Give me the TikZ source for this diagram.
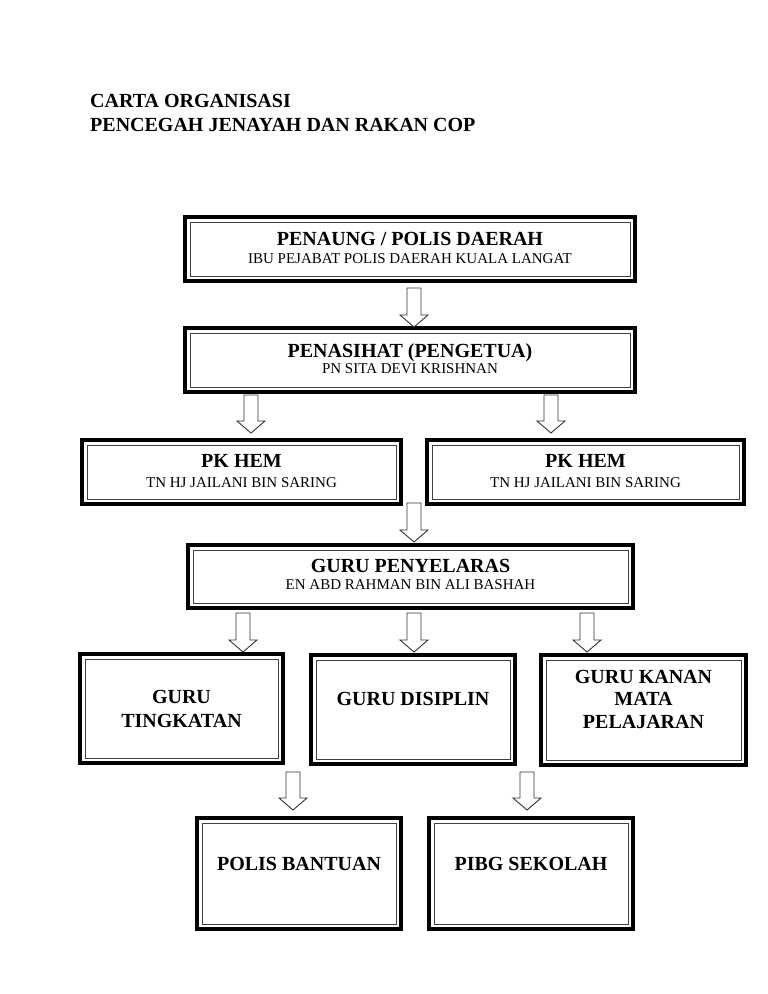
\documentclass[tikz,border=0pt]{standalone}
\usepackage{fontspec}
\setmainfont{Liberation Serif}
\usetikzlibrary{calc}
\tikzset{
  orgbox/.style={draw, line width=4pt, outer sep=0pt, inner sep=0pt, fill=white},
  innerline/.style={draw=black!75, line width=1pt},
  arrowline/.style={draw=black!80, line width=0.9pt, fill=white, line join=miter},
  bigtext/.style={font=\fontsize{20}{24}\selectfont\bfseries, inner sep=0pt, anchor=base},
  smalltext/.style={font=\fontsize{15}{18}\selectfont, inner sep=0pt, anchor=base},
}
% #1 name, #2 centre x, #3 centre y, #4 width, #5 height
\newcommand\orgframe[5]{%
  \node[orgbox, minimum width=#4pt, minimum height=#5pt] (#1) at (#2,#3) {};
  \draw[innerline] ([xshift=5pt,yshift=-5pt]#1.north west) rectangle ([xshift=-5pt,yshift=5pt]#1.south east);
}
% #1 x, #2 from node, #3 start offset, #4 to node, #5 tip offset
\newcommand\blockarrow[5]{%
  \path (#1,0 |- #2.south) coordinate (arrT) (#1,0 |- #4.north) coordinate (arrH);
  \draw[arrowline] ($(arrT)+(-7,#3)$) -- ($(arrH)+(-7,#5-12)$) -- ($(arrH)+(-14,#5-12)$) -- ($(arrH)+(0,#5)$)
    -- ($(arrH)+(14,#5-12)$) -- ($(arrH)+(7,#5-12)$) -- ($(arrT)+(7,#3)$) -- cycle;
}
\begin{document}
\begin{tikzpicture}[x=1pt,y=-1pt]
\useasboundingbox[fill=white] (0,0) rectangle (768,994);

% title
\node[bigtext, anchor=base west] (title1) at (90,107) {CARTA ORGANISASI};
\node[bigtext, anchor=base west] (title2) at (90,131) {PENCEGAH JENAYAH DAN RAKAN COP};

% boxes
\orgframe{b1}{410}{249}{450}{64}
\orgframe{b2}{410}{360}{450}{64}
\orgframe{b3l}{241.5}{472}{319}{64}
\orgframe{b3r}{585.5}{472}{317}{64}
\orgframe{b4}{410.5}{576.5}{445}{63}
\orgframe{b5l}{181.5}{708.5}{203}{109}
\orgframe{b5m}{413}{709.5}{204}{109}
\orgframe{b5r}{643.5}{710}{205}{110}
\orgframe{b6l}{299}{873.5}{204}{111}
\orgframe{b6r}{531}{873.5}{204}{111}

% texts
\node[bigtext] (b1a) at (410,245) {PENAUNG / POLIS DAERAH};
\node[smalltext] (b1b) at (410,263) {IBU PEJABAT POLIS DAERAH KUALA LANGAT};
\node[bigtext] (b2a) at (410,357) {PENASIHAT (PENGETUA)};
\node[smalltext] (b2b) at (410,373) {PN SITA DEVI KRISHNAN};
\node[bigtext] (b3la) at (241.5,467) {PK HEM};
\node[smalltext] (b3lb) at (241.5,487) {TN HJ JAILANI BIN SARING};
\node[bigtext] (b3ra) at (585.5,467) {PK HEM};
\node[smalltext] (b3rb) at (585.5,487) {TN HJ JAILANI BIN SARING};
\node[bigtext] (b4a) at (410.5,572) {GURU PENYELARAS};
\node[smalltext] (b4b) at (410.5,589) {EN ABD RAHMAN BIN ALI BASHAH};
\node[bigtext] (b5la) at (181.5,703) {GURU};
\node[bigtext] (b5lb) at (181.5,727) {TINGKATAN};
\node[bigtext] (b5ma) at (413,705) {GURU DISIPLIN};
\node[bigtext] (b5ra) at (643.5,683) {GURU KANAN};
\node[bigtext] (b5rb) at (643.5,705.5) {MATA};
\node[bigtext] (b5rc) at (643.5,728) {PELAJARAN};
\node[bigtext] (b6la) at (299,870) {POLIS BANTUAN};
\node[bigtext] (b6ra) at (531,870) {PIBG SEKOLAH};

% arrows
\blockarrow{414}{b1}{7}{b2}{-1}
\blockarrow{251}{b2}{3}{b3l}{-7}
\blockarrow{551}{b2}{3}{b3r}{-7}
\blockarrow{414}{b3l}{-1}{b4}{-3}
\blockarrow{243}{b4}{5}{b5l}{-2}
\blockarrow{414}{b4}{5}{b5m}{-3}
\blockarrow{587}{b4}{5}{b5r}{-3}
\blockarrow{293}{b5l}{9}{b6l}{-8}
\blockarrow{527}{b5m}{8}{b6r}{-8}
\end{tikzpicture}
\end{document}
